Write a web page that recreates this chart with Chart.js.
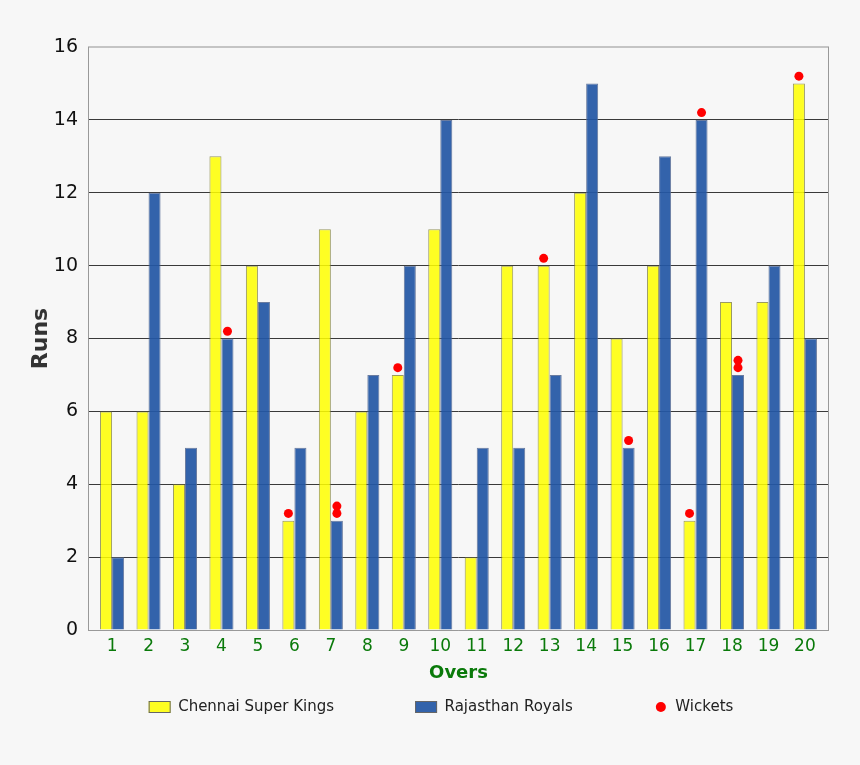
<!DOCTYPE html>
<html lang="en">
<head>
  <meta charset="UTF-8" />
  <title>Runs per over - CSK vs RR</title>
  <script src="https://cdn.jsdelivr.net/npm/chart.js"></script>
  <style>
    body {
      margin: 0;
      background: #f7f7f7;
      font-family: "DejaVu Sans", sans-serif;
    }
    .chart-box {
      width: 860px;
      height: 765px;
      position: relative;
    }
  </style>
</head>
<body>
  <div class="chart-box">
    <canvas id="oversChart"></canvas>
  </div>

  <script>
    // --- data ---
    const overs = ['1', '2', '3', '4', '5', '6', '7', '8', '9', '10',
                   '11', '12', '13', '14', '15', '16', '17', '18', '19', '20'];
    const cskRuns = [6, 6, 4, 13, 10, 3, 11, 6, 7, 11, 2, 10, 10, 12, 8, 10, 3, 9, 9, 15];
    const rrRuns  = [2, 12, 5, 8, 9, 5, 3, 7, 10, 14, 5, 5, 7, 15, 5, 13, 14, 7, 10, 8];

    // one entry per wicket: over, team that lost it, height of the marker
    const wicketOver = [4, 6, 7, 7, 9, 13, 15, 17, 17, 18, 18, 20];
    const wicketTeam = ['RR', 'CSK', 'RR', 'RR', 'CSK', 'CSK', 'RR', 'CSK', 'RR', 'RR', 'RR', 'CSK'];
    const wicketY    = [8.2, 3.2, 3.2, 3.4, 7.2, 10.2, 5.2, 3.2, 14.2, 7.2, 7.4, 15.2];

    const yTicks = [0, 2, 4, 6, 8, 10, 12, 14, 16];

    // --- styling ---
    const catPct = 0.66;
    const green = '#0a7a0a';
    Chart.defaults.font.family = '"DejaVu Sans", sans-serif';

    // wickets sit over their own bar in the pair
    const barShift = catPct / 4;
    const wicketPoints = wicketOver.map((o, i) => ({
      x: o + (wicketTeam[i] === 'CSK' ? -barShift : barShift),
      y: wicketY[i]
    }));

    // left / right / bottom frame of the plot
    const framePlugin = {
      id: 'frame',
      beforeDatasetsDraw(chart) {
        const { ctx, chartArea: a } = chart;
        ctx.save();
        ctx.strokeStyle = '#999';
        ctx.lineWidth = 1;
        ctx.beginPath();
        ctx.moveTo(a.left + 0.5, a.top);
        ctx.lineTo(a.left + 0.5, a.bottom + 0.5);
        ctx.lineTo(a.right - 0.5, a.bottom + 0.5);
        ctx.lineTo(a.right - 0.5, a.top);
        ctx.stroke();
        ctx.restore();
      }
    };

    // legend with wide gaps between entries (built-in one pads vertically too)
    const legendPlugin = {
      id: 'spreadLegend',
      afterDraw(chart) {
        const ctx = chart.ctx;
        const gap = 81, box = 22, boxH = 12, fs = 15;
        ctx.save();
        ctx.font = fs + 'px "DejaVu Sans"';
        ctx.textBaseline = 'middle';
        const items = chart.data.datasets.map(ds => ({
          text: ds.label,
          w: box + fs / 2 + ctx.measureText(ds.label).width,
          ds
        }));
        const total = items.reduce((s, it) => s + it.w, 0) + gap * (items.length - 1);
        let x = chart.width / 2 + 15 - total / 2;
        const y = chart.height - 58;
        items.forEach(it => {
          if (it.ds.type === 'scatter') {
            ctx.fillStyle = it.ds.backgroundColor;
            ctx.beginPath();
            ctx.arc(x + box / 2 - 4, y, 5, 0, Math.PI * 2);
            ctx.fill();
          } else {
            ctx.fillStyle = it.ds.backgroundColor;
            ctx.fillRect(x, y - boxH / 2, box, boxH);
            ctx.strokeStyle = '#666';
            ctx.lineWidth = 1;
            ctx.strokeRect(x + 0.5, y - boxH / 2 + 0.5, box - 1, boxH - 1);
          }
          ctx.fillStyle = '#222';
          ctx.fillText(it.text, x + box + fs / 2 - (it.ds.type === 'scatter' ? 8 : 0), y);
          x += it.w + gap;
        });
        ctx.restore();
      }
    };

    new Chart(document.getElementById('oversChart'), {
      type: 'bar',
      data: {
        datasets: [{
          label: 'Chennai Super Kings',
          data: cskRuns.map((v, i) => ({ x: i + 1, y: v })),
          backgroundColor: 'rgba(255, 255, 0, 0.86)',
          borderColor: 'rgba(130, 130, 60, 0.8)',
          borderWidth: 1,
          categoryPercentage: catPct,
          barPercentage: 1,
          order: 2
        }, {
          label: 'Rajasthan Royals',
          data: rrRuns.map((v, i) => ({ x: i + 1, y: v })),
          backgroundColor: 'rgba(35, 87, 165, 0.93)',
          borderColor: 'rgba(90, 110, 150, 0.9)',
          borderWidth: 1,
          categoryPercentage: catPct,
          barPercentage: 1,
          order: 2
        }, {
          type: 'scatter',
          label: 'Wickets',
          data: wicketPoints,
          backgroundColor: '#ff0000',
          borderWidth: 0,
          pointRadius: 4.5,
          order: 1
        }]
      },
      options: {
        responsive: true,
        maintainAspectRatio: false,
        animation: false,
        layout: {
          padding: { top: 47, right: 31, bottom: 81, left: 28 }
        },
        scales: {
          x: {
            type: 'linear',
            offset: false,
            min: 0.34,
            max: 20.66,
            grid: { display: false, drawTicks: false },
            border: { display: false },
            ticks: {
              stepSize: 1,
              includeBounds: false,
              padding: 6,
              color: green,
              font: { size: 17 },
              callback: v => overs[v - 1]
            },
            title: {
              display: true,
              text: 'Overs',
              color: green,
              font: { size: 18, weight: 'bold' },
              padding: { top: 0, bottom: 0 }
            }
          },
          y: {
            min: yTicks[0],
            max: yTicks[yTicks.length - 1],
            afterBuildTicks: axis => { axis.ticks = yTicks.map(v => ({ value: v })); },
            afterFit: axis => { axis.width = 60; },
            grid: {
              drawTicks: false,
              color: ctx => ctx.tick.value === 16 ? '#c4c4c4' : (ctx.tick.value === 0 ? '#999' : '#3a3a3a'),
              lineWidth: ctx => ctx.tick.value === 16 ? 2 : 1
            },
            border: { display: false },
            ticks: {
              padding: 10,
              color: '#111',
              font: { size: 19 }
            },
            title: {
              display: true,
              text: 'Runs',
              color: '#333',
              font: { size: 22, weight: 'bold' },
              padding: { top: 0, bottom: 0 }
            }
          }
        },
        plugins: {
          legend: { display: false },
          tooltip: { enabled: false }
        }
      },
      plugins: [framePlugin, legendPlugin]
    });
  </script>
</body>
</html>
